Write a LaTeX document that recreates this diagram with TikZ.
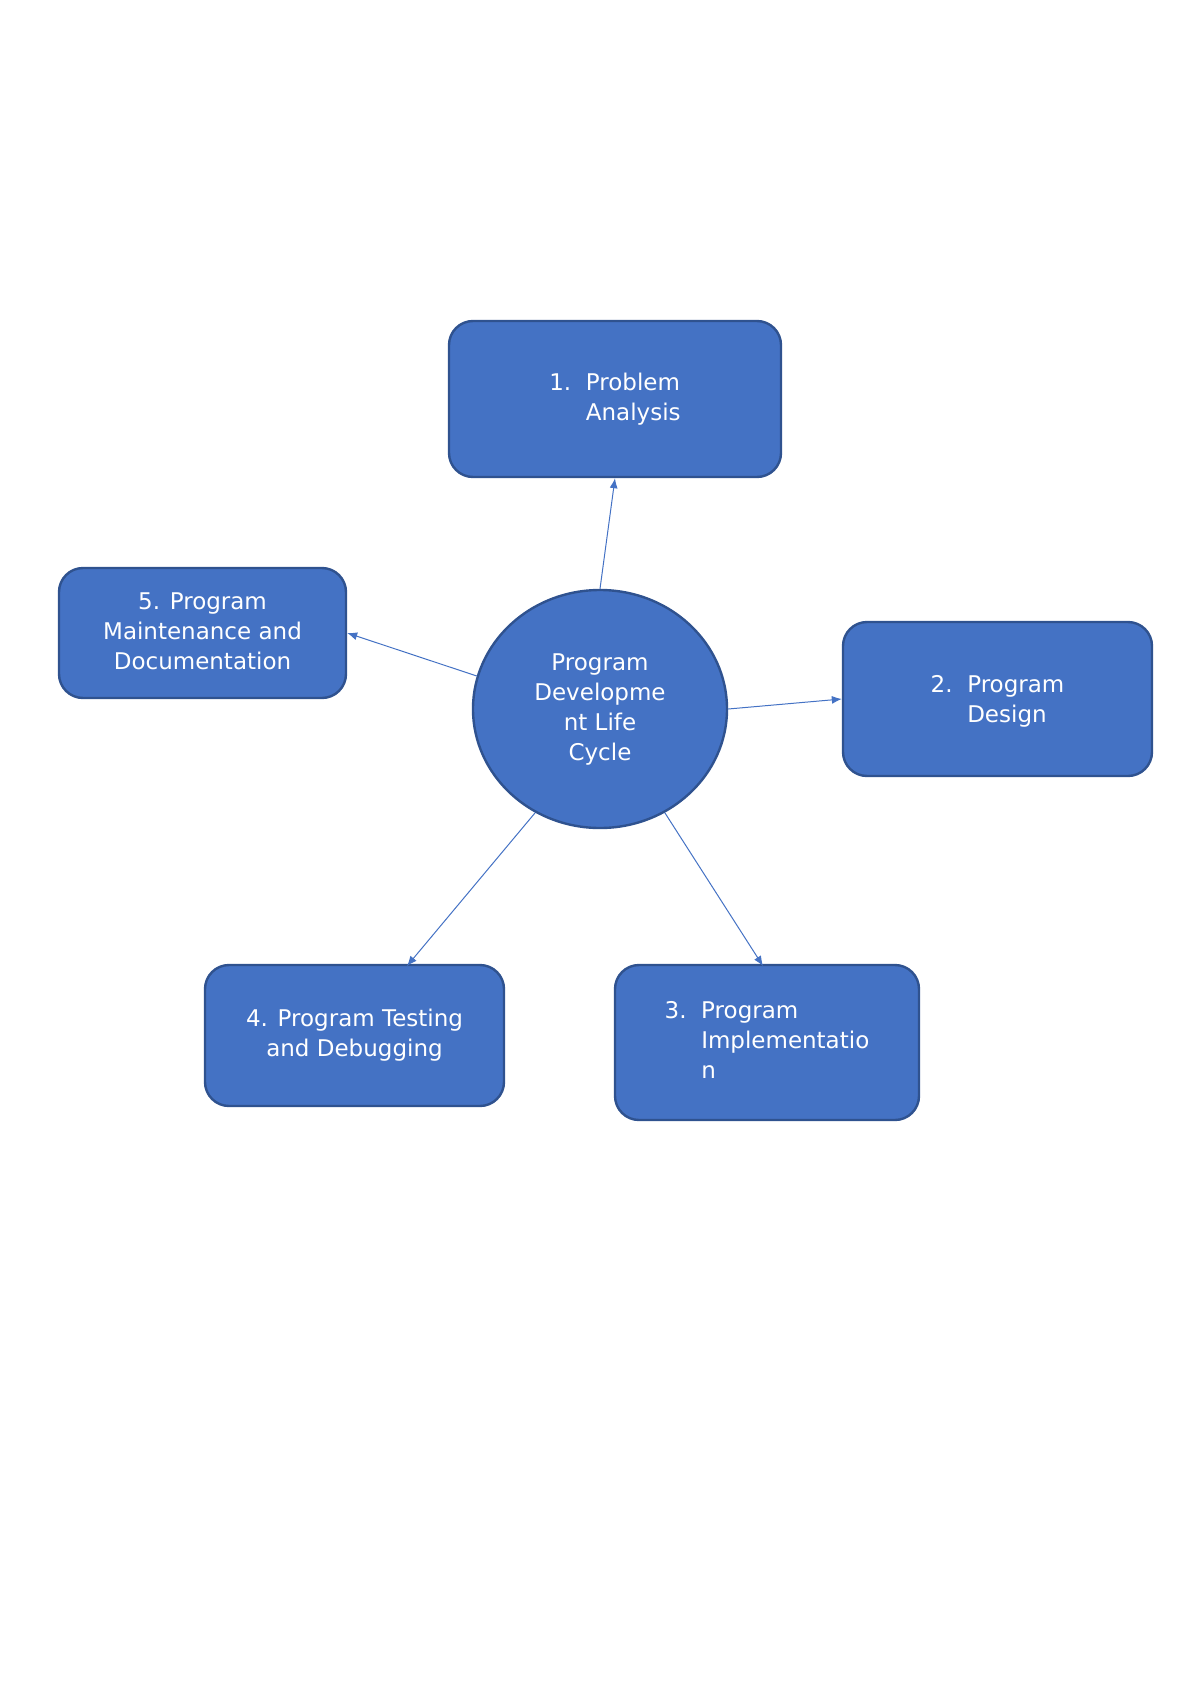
\documentclass[tikz,border=0pt]{standalone}
\usepackage{fontspec}
\setmainfont{DejaVu Sans}
\usetikzlibrary{shapes.geometric,arrows.meta}
\definecolor{fillb}{HTML}{4472C4}
\definecolor{edgeb}{HTML}{2F528F}
\begin{document}
\begin{tikzpicture}[x=0.5pt,y=-0.5pt,
  box/.style={draw=edgeb,line width=1.2pt,fill=fillb,rounded corners=12pt,text=white,font=\fontsize{11.5}{15}\selectfont,inner sep=0pt},
  conn/.style={draw=fillb,line width=0.5pt,-{Latex[length=5pt,width=4pt]}}]
\useasboundingbox (0,0) rectangle (1200,1696);
\node[box,minimum width=166pt,minimum height=78pt] (b1) at (615,399) {\begin{tabular}{@{}l@{\ \ }l@{}}1. & Problem\\ & Analysis\end{tabular}};
\node[box,minimum width=154.5pt,minimum height=77pt,text depth=0pt] (b2) at (997.5,699) {\raisebox{10pt}{\begin{tabular}{@{}l@{\ \ }l@{}}2. & Program\\ & Design\end{tabular}}};
\node[box,minimum width=152pt,minimum height=77.5pt] (b3) at (767,1042.5) {\raisebox{8pt}{\begin{tabular}{@{}l@{\ \ }l@{}}3. & Program\\ & Implementatio\\ & n\end{tabular}}};
\node[box,minimum width=149.5pt,minimum height=70.5pt] (b4) at (354.5,1035.5) {\raisebox{6pt}{\begin{tabular}{@{}c@{}}4. Program Testing\\ and Debugging\end{tabular}}};
\node[box,minimum width=143.5pt,minimum height=65pt] (b5) at (202.5,633) {\begin{tabular}{@{}c@{}}5. Program\\ Maintenance and\\ Documentation\end{tabular}};
\node[ellipse,draw=edgeb,line width=1.2pt,fill=fillb,text=white,font=\fontsize{11.5}{15}\selectfont,minimum width=127pt,minimum height=119pt,inner sep=0pt] (c) at (600,709) {\begin{tabular}{@{}c@{}}Program\\ Developme\\ nt Life\\ Cycle\end{tabular}};
\draw[conn] (c.north) -- (b1.south);
\draw[conn] (c.east) -- (b2.west);
\draw[conn] (c.-58) -- (763,966);
\draw[conn] (c.-122) -- (407,966);
\draw[conn] (c.165) -- (b5.east);
\end{tikzpicture}
\end{document}
